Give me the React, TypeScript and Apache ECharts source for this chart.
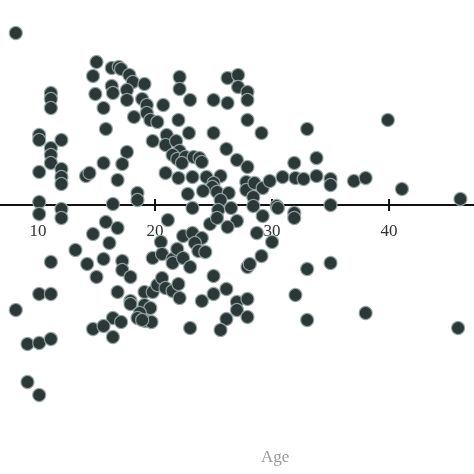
import * as echarts from "echarts";
import { useEffect, useRef } from "react";

// age (years) and residual
const points: [number, number][] = [
  [8.1, 17.2], [11.1, 11.2], [11.1, 10.6], [11.1, 9.7], [10.1, 7.0], [10.1, 6.5],
  [12.0, 6.5], [11.1, 5.7], [11.1, 5.0], [11.1, 4.2], [10.1, 3.3], [12.0, 3.6],
  [12.0, 2.8], [12.0, 2.1], [14.1, 2.9], [14.4, 3.2], [10.1, 0.3], [10.1, -0.9],
  [12.0, -0.4], [12.0, -1.3], [13.2, -4.5], [11.1, -5.7], [14.2, -5.9], [10.1, -8.9],
  [11.1, -8.9], [8.1, -10.5], [9.1, -13.9], [10.1, -13.8], [11.1, -13.4], [9.1, -17.7],
  [10.1, -19.0], [14.7, -2.9], [15.0, -7.2], [14.7, -12.4], [14.7, 12.9], [14.9, 11.1],
  [15.0, 14.3],
  [16.3, 13.7], [16.9, 13.8], [17.1, 13.6], [17.8, 13.0], [18.1, 12.3], [19.1, 12.1],
  [16.3, 11.9], [16.4, 11.2], [17.6, 11.5], [17.6, 10.5], [18.9, 10.6], [19.3, 10.0],
  [19.3, 9.2], [19.6, 8.5], [20.2, 8.3], [15.6, 9.7], [18.2, 8.8], [15.8, 7.6],
  [19.8, 6.4], [17.6, 5.3], [15.6, 4.2], [17.2, 4.1], [16.8, 2.5], [18.5, 1.2],
  [18.5, 0.5], [16.4, 0.1], [20.7, 10.0],
  [15.8, -1.7], [16.8, -2.3], [16.1, -3.8], [15.6, -5.4], [17.2, -5.6], [17.2, -6.5],
  [17.9, -7.2], [16.8, -8.7], [17.9, -9.6], [17.9, -9.9], [19.1, -8.7], [19.8, -8.7],
  [20.2, -8.0], [19.1, -10.0], [19.6, -10.3], [18.7, -10.8], [18.5, -11.3], [19.2, -11.6],
  [19.7, -11.7], [16.4, -11.3], [17.1, -11.7], [15.6, -12.1], [16.4, -13.2], [19.8, -5.3],
  [20.5, -3.7],
  [22.1, 12.8], [22.1, 11.6], [26.2, 12.7], [27.1, 13.0], [27.1, 11.8], [27.9, 11.3],
  [27.9, 10.5], [23.0, 10.5], [25.0, 10.5], [26.2, 10.2], [22.0, 8.5], [27.9, 8.5],
  [22.9, 7.2], [25.0, 7.2], [29.1, 7.2], [21.0, 7.0], [20.9, 6.0], [21.8, 6.4],
  [22.1, 5.4], [21.5, 5.0], [21.9, 4.6], [22.6, 4.8], [22.3, 4.2], [23.3, 4.8],
  [23.8, 4.7], [24.0, 4.3], [26.1, 5.6], [27.0, 4.5], [27.9, 3.8], [20.9, 3.2],
  [22.0, 2.7], [23.2, 2.8], [24.4, 2.8], [25.6, 2.9], [25.0, 2.2], [24.9, 1.8],
  [24.1, 1.4], [25.3, 1.3], [26.3, 1.2], [22.8, 1.1], [27.8, 2.3], [27.8, 1.5],
  [28.5, 2.2], [29.2, 1.7], [29.8, 2.4], [28.4, 0.8], [28.4, -0.1], [25.6, 0.5],
  [25.4, -0.5], [26.5, -0.3], [23.2, -0.3], [30.4, -0.1], [29.2, -1.1], [21.1, -1.5],
  [27.0, -1.6], [24.7, -1.9], [25.3, -1.3], [26.2, -2.2], [28.7, -2.8], [30.0, -3.7],
  [29.1, -5.1], [22.4, -3.1], [23.2, -2.8], [24.0, -3.3], [23.4, -3.8], [23.7, -4.6],
  [24.3, -4.7], [20.6, -4.9], [21.5, -5.4], [21.5, -5.8], [21.9, -4.4], [22.4, -5.3],
  [23.0, -6.2], [27.9, -6.2], [28.1, -5.9], [25.0, -7.1], [20.6, -7.3], [20.9, -8.3],
  [21.5, -8.6], [22.0, -7.9], [22.1, -9.3], [18.9, -11.5], [26.1, -8.4], [25.0, -8.9],
  [24.0, -9.6], [27.0, -9.7], [27.9, -9.4], [27.0, -10.5], [27.9, -11.2], [26.1, -11.4],
  [23.0, -12.3], [25.6, -12.5],
  [30.9, 2.8], [32.0, 2.7], [32.7, 2.6], [33.8, 2.9], [35.0, 2.6], [35.0, 2.0],
  [37.0, 2.4], [38.0, 2.7], [31.9, 4.2], [33.8, 4.7], [33.0, 7.6], [39.9, 8.5],
  [41.1, 1.6], [46.1, 0.6], [30.5, -0.3], [31.9, -0.8], [31.9, -1.3], [35.0, 0.0],
  [33.0, -6.4], [35.0, -5.8], [32.0, -9.0], [33.0, -11.5], [38.0, -10.8], [45.9, -12.3],
];

const tickValues = [10, 20, 30, 40];
const axisTitle = "Age";

const App: React.FC = () => {
  const chartRef = useRef<HTMLDivElement>(null);

  useEffect(() => {
    const chart = echarts.init(chartRef.current!, null, { renderer: "svg" });

    chart.setOption({
      animation: false,
      title: {
        text: axisTitle,
        left: 256,
        top: 443,
        textStyle: {
          fontFamily: "Liberation Serif",
          fontSize: 17,
          fontWeight: "normal",
          color: "#9a9a9a",
        },
      },
      grid: { left: 0, right: 0, top: 0, bottom: 0, outerBoundsMode: "none", containLabel: false },
      xAxis: {
        type: "value",
        min: 6.75,
        max: 47.26,
        splitLine: { show: false },
        axisLine: { onZero: true, lineStyle: { color: "#111", width: 2 } },
        axisTick: { show: false },
        axisLabel: { show: false },
      },
      yAxis: {
        type: "value",
        min: -26.9,
        max: 20.5,
        show: false,
        splitLine: { show: false },
      },
      series: [
        {
          // tick marks crossing the axis line, with their labels
          type: "scatter",
          data: tickValues.map((v) => [v, 0]),
          symbol: "rect",
          symbolSize: [2, 12],
          itemStyle: { color: "#111", opacity: 1 },
          label: {
            show: true,
            position: "bottom",
            distance: 11,
            formatter: (p: any) => String(p.value[0]),
            fontFamily: "Liberation Serif",
            fontSize: 17,
            color: "#333",
          },
          silent: true,
          z: 1,
        },
        {
          type: "scatter",
          data: points,
          symbolSize: 13,
          itemStyle: {
            color: "#2c3838",
            opacity: 1,
            borderColor: "rgba(150,168,164,0.9)",
            borderWidth: 1.2,
          },
          z: 2,
        },
      ],
    });

    return () => {
      chart.dispose();
    };
  }, []);

  return (
    <div
      ref={chartRef}
      style={{ position: "fixed", left: 0, top: 0, width: "474px", height: "474px" }}
    />
  );
};

export default App;
